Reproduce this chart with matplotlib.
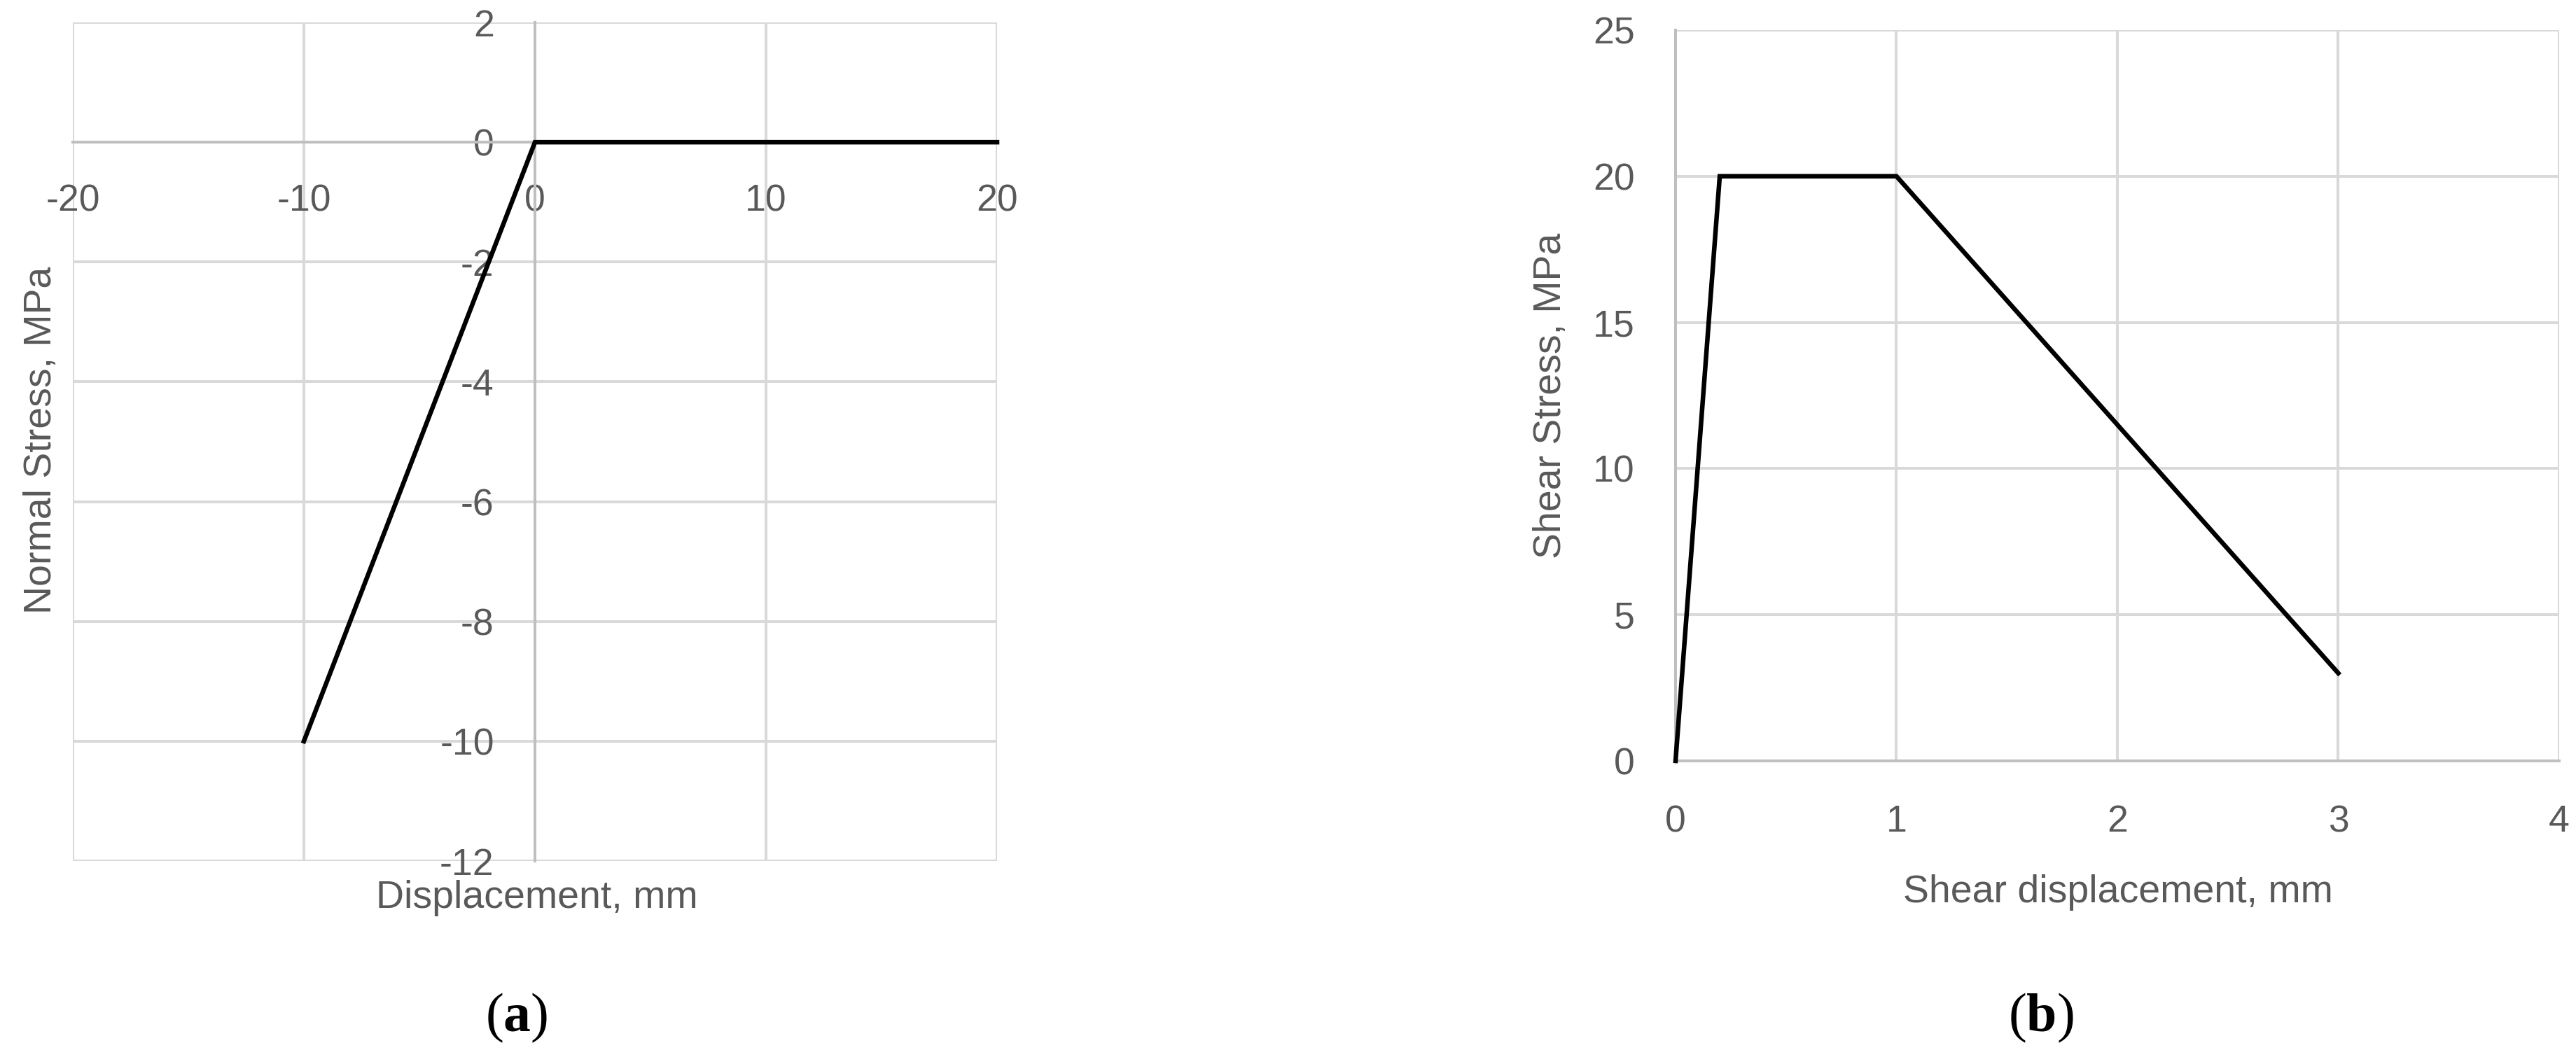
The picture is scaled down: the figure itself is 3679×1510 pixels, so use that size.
import matplotlib
matplotlib.use("Agg")
import matplotlib.pyplot as plt

# ---- data ----
normal_disp = [-10, 0, 20]
normal_stress = [-10, 0, 0]
shear_disp = [0, 0.2, 1, 3]
shear_stress = [0, 20, 20, 3]

left_xticks = [-20, -10, 0, 10, 20]
left_yticks = [2, 0, -2, -4, -6, -8, -10, -12]
right_xticks = [0, 1, 2, 3, 4]
right_yticks = [0, 5, 10, 15, 20, 25]

plt.rcParams['font.family'] = ['Liberation Sans', 'DejaVu Sans']
plt.rcParams['axes.unicode_minus'] = False
plt.rcParams['mathtext.fontset'] = 'custom'
plt.rcParams['mathtext.bf'] = 'Liberation Serif:bold'
plt.rcParams['mathtext.rm'] = 'Liberation Serif'

W, H = 3680, 1510
DPI = 100
fig = plt.figure(figsize=(W / DPI, H / DPI), dpi=DPI)

TXT = '#595959'
GRID = '#d9d9d9'
AXC = '#bfbfbf'
TICK_FS = 38.5
TITLE_FS = 40
LW = 4.7
GLW = 2.9


def fx(px):
    return px / W


def fy(py):
    return 1 - py / H


def style(ax, xticks, yticks, xpad, ypad):
    ax.set_xticks(xticks)
    ax.set_yticks(yticks)
    ax.set_xticklabels([str(v) for v in xticks])
    ax.set_yticklabels([str(v) for v in yticks])
    ax.grid(True, color=GRID, linewidth=GLW)
    ax.set_axisbelow(True)
    for s in ['top', 'right']:
        ax.spines[s].set_visible(False)
    for s in ['bottom', 'left']:
        ax.spines[s].set_color(AXC)
        ax.spines[s].set_linewidth(GLW)
        ax.spines[s].set_zorder(1)
    ax.tick_params(axis='x', length=0, pad=xpad, labelsize=TICK_FS, labelcolor=TXT)
    ax.tick_params(axis='y', length=0, pad=ypad, labelsize=TICK_FS, labelcolor=TXT)


# ---- left chart ----
axL = fig.add_axes([fx(104), fy(1230), fx(1424 - 104), (1230 - 32) / H])
axL.plot(normal_disp, normal_stress, color='black', linewidth=LW, zorder=3,
         solid_joinstyle='miter', clip_on=False)
axL.set_xlim(-20, 20)
axL.set_ylim(-12, 2)
style(axL, left_xticks, left_yticks, xpad=43, ypad=42)
axL.spines['bottom'].set_position(('data', 0))
axL.spines['left'].set_position(('data', 0))

fig.text(fx(59), fy(629), 'Normal Stress, MPa', rotation=90, ha='center', va='center',
         fontsize=TITLE_FS, color=TXT)
fig.text(fx(767), fy(1297), 'Displacement, mm', ha='center', va='baseline',
         fontsize=TITLE_FS, color=TXT)

# ---- right chart ----
axR = fig.add_axes([fx(2393), fy(1087), fx(3655 - 2393), (1087 - 43) / H])
axR.plot(shear_disp, shear_stress, color='black', linewidth=LW, zorder=3,
         solid_joinstyle='miter', clip_on=False)
axR.set_xlim(0, 4)
axR.set_ylim(0, 25)
style(axR, right_xticks, right_yticks, xpad=45, ypad=42)

fig.text(fx(2215), fy(565), 'Shear Stress, MPa', rotation=90, ha='center', va='center',
         fontsize=TITLE_FS, color=TXT)
fig.text(fx(3025), fy(1289), 'Shear displacement, mm', ha='center', va='baseline',
         fontsize=TITLE_FS, color=TXT)

# ---- panel labels ----
fig.text(fx(738), fy(1454), r'($\mathbf{a}$)', ha='center', va='center',
         fontsize=56, color='black', family='Liberation Serif')
fig.text(fx(2915), fy(1454), r'($\mathbf{b}$)', ha='center', va='center',
         fontsize=56, color='black', family='Liberation Serif')

fig.savefig('out.png', dpi=DPI, facecolor='white')
